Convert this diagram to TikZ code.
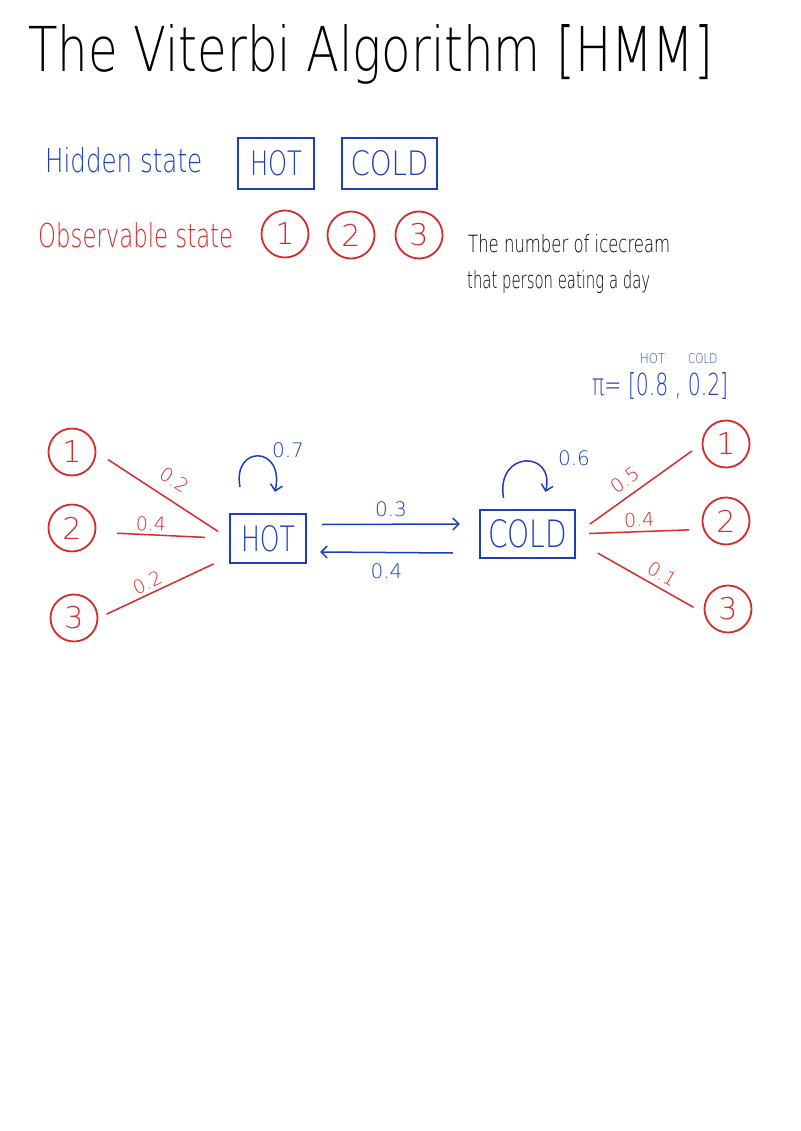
\documentclass[tikz,border=0pt]{standalone}
\usepackage{fontspec}
\usepackage{graphicx}
\IfFontExistsTF{DejaVu Sans ExtraLight}
  {\newfontfamily\handfont{DejaVu Sans ExtraLight}}
  {\newfontfamily\handfont{DejaVu Sans}}
\usetikzlibrary{arrows.meta}

\definecolor{penblue}{RGB}{28,62,190}
\definecolor{penred}{RGB}{214,44,44}

% text squeezed to a given width and height (pt)
\newcommand{\hand}[3]{\resizebox{#1pt}{#2pt}{\handfont #3}}

\begin{document}
\begin{tikzpicture}[
  x=1pt, y=1pt,
  every node/.style={inner sep=0pt},
  txt/.style={anchor=base west},
  state/.style={draw=penblue, line width=2.2pt, text=penblue},
  obs/.style={circle, draw=penred, line width=1.8pt, minimum size=47pt,
    text=penred, font=\handfont\fontsize{30}{30}\selectfont},
  emit/.style={draw=penred, line width=1.5pt},
  trans/.style={draw=penblue, line width=1.5pt, -{Straight Barb[length=6pt,width=12pt]}},
  plabel/.style={text=penred, inner sep=2pt, sloped, font=\handfont\fontsize{19}{22}\selectfont},
  tlabel/.style={text=penblue, inner sep=2pt, font=\handfont\fontsize{20}{24}\selectfont},
]

% Page
\fill[white] (0,0) rectangle (800,-1131);
\useasboundingbox (0,0) rectangle (800,-1131);

% Title
\node[txt] (title) at (28,-72) {\hand{685}{47}{The Viterbi Algorithm [HMM]}};

% Legend
\node[txt, text=penblue] (hidden) at (45,-173) {\hand{157}{25}{Hidden state}};
\node[state, minimum width=76pt, minimum height=51pt] (hotkey) at (276,-163.5) {\hand{52}{25}{HOT}};
\node[state, minimum width=95pt, minimum height=51pt] (coldkey) at (389.5,-163.5) {\hand{78}{25}{COLD}};

\node[txt, text=penred] (observable) at (38,-248) {\hand{195}{25}{Observable state}};
\node[obs] (k1) at (285,-234) {1};
\node[obs] (k2) at (351,-235) {2};
\node[obs] (k3) at (419,-235) {3};

\node[txt] (note1) at (468,-253) {\hand{202}{18}{The number of icecream}};
\node[txt] (note2) at (467,-288) {\hand{183}{18}{that person eating a day}};

% Initial probabilities
\node[txt, text=penblue] (pi) at (592,-395) {\hand{136}{23}{π= [0.8 , 0.2]}};
\node[txt, text=penblue] (pihot) at (640,-363) {\hand{25}{10}{HOT}};
\node[txt, text=penblue] (picold) at (688,-363) {\hand{29}{10}{COLD}};

% Hidden states
\node[state, minimum width=76pt, minimum height=49pt] (hot) at (268,-538.5) {\hand{54}{26}{HOT}};
\node[state, minimum width=95pt, minimum height=48pt] (cold) at (527.5,-534) {\hand{79}{28}{COLD}};

% Observations
\node[obs] (a1) at (72,-452) {1};
\node[obs] (a2) at (72,-528) {2};
\node[obs] (a3) at (74,-618) {3};
\node[obs] (b1) at (726,-444) {1};
\node[obs] (b2) at (726,-521) {2};
\node[obs] (b3) at (728,-609) {3};

% Emission probabilities
\draw[emit, shorten <=14pt, shorten >=13pt] (a1.east) -- node[plabel, above=9pt, pos=0.51] {0.2} (hot.west);
\draw[emit, shorten <=21pt, shorten >=24pt] (a2.-10) -- node[plabel, above=1pt, pos=0.41] {0.4} (hot.west);
\draw[emit, shorten <=9pt, shorten >=17pt] (a3.east) -- node[plabel, above=1pt, pos=0.41] {0.2} (hot.205);
\draw[emit, shorten <=17pt, shorten >=12pt] (cold.east) -- node[plabel, above=6pt, pos=0.46] {0.5} (b1.west);
\draw[emit, shorten <=13pt, shorten >=14pt] (cold.east) -- node[plabel, above=2pt, pos=0.5] {0.4} (b2.200);
\draw[emit, shorten <=25pt, shorten >=12pt] (cold.-8) -- node[plabel, above=4pt, pos=0.62] {0.1} (b3.190);

% Transition probabilities
\draw[trans] ([shift={(15,14)}]hot.east) -- node[tlabel, above=5pt] {0.3} ([shift={(-19,10)}]cold.west);
\draw[trans] ([shift={(-26,-19)}]cold.west) -- node[tlabel, below=8pt] {0.4} ([shift={(13,-13.5)}]hot.east);

\draw[trans] ([shift={(-28,26)}]hot.north) .. controls +(-8,42) and +(10,47) .. ([shift={(7,21)}]hot.north);
\node[tlabel] (stayhot) at (288,-450) {0.7};
\draw[trans] ([shift={(-24,11)}]cold.north) .. controls +(-8,48) and +(10,42) .. ([shift={(18,17)}]cold.north);
\node[tlabel] (staycold) at (574,-458) {0.6};

\end{tikzpicture}
\end{document}
